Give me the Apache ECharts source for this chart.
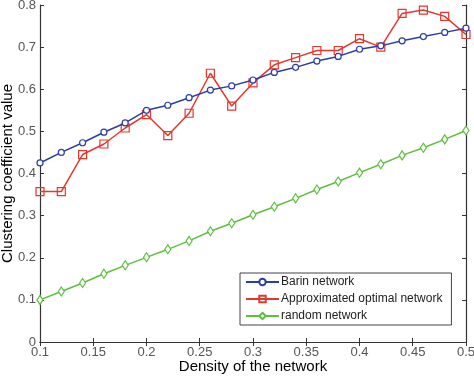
<!DOCTYPE html>
<html>
<head>
<meta charset="utf-8">
<script src="https://cdn.jsdelivr.net/npm/echarts@6/dist/echarts.min.js"></script>
<style>
html,body{margin:0;padding:0;background:#fff;}
#main{width:474px;height:376px;}
</style>
</head>
<body>
<div id="main"></div>
<script>
// density values on the x axis
var density = [0.10, 0.12, 0.14, 0.16, 0.18, 0.20, 0.22, 0.24, 0.26, 0.28, 0.30,
	0.32, 0.34, 0.36, 0.38, 0.40, 0.42, 0.44, 0.46, 0.48, 0.50];
var barin = [0.425, 0.450, 0.473, 0.498, 0.520, 0.550, 0.562, 0.580, 0.598, 0.608, 0.622,
	0.640, 0.652, 0.667, 0.678, 0.695, 0.703, 0.715, 0.725, 0.735, 0.745];
var optimal = [0.357, 0.357, 0.445, 0.470, 0.508, 0.540, 0.490, 0.543, 0.638, 0.560, 0.615,
	0.658, 0.675, 0.692, 0.692, 0.720, 0.700, 0.780, 0.788, 0.773, 0.730];
var random = [0.100, 0.120, 0.140, 0.162, 0.182, 0.201, 0.220, 0.240, 0.263, 0.282, 0.302,
	0.321, 0.341, 0.362, 0.381, 0.402, 0.422, 0.443, 0.461, 0.481, 0.502];
var seriesNames = ['Barin network', 'Approximated optimal network', 'random network'];

function pairs(ys) {
	var out = [];
	for (var i = 0; i < density.length; i++) {
		out.push([density[i], ys[i]]);
	}
	return out;
}

var myChart = echarts.init(document.getElementById('main'), null, {renderer: 'canvas'});
var fontFam = '"Liberation Sans", Arial, sans-serif';
var axisCommon = {
	axisLine: {show: true, lineStyle: {color: '#333', width: 1.2}},
	axisTick: {show: true, inside: true, length: 4, lineStyle: {color: '#333'}},
	splitLine: {show: false}
};

var option = {
	animation: false,
	backgroundColor: '#fff',
	grid: {left: 40, right: 8, top: 5, bottom: 34, containLabel: false, outerBoundsMode: 'none'},
	legend: {
		orient: 'vertical',
		left: 240,
		top: 273,
		backgroundColor: '#fff',
		borderColor: '#444',
		borderWidth: 1,
		borderRadius: 0,
		padding: [3, 9, 3, 5],
		itemGap: 5,
		itemWidth: 33,
		itemHeight: 8,
		textStyle: {fontFamily: fontFam, fontSize: 12, color: '#222', padding: [0, 0, 0, -3]},
		data: seriesNames
	},
	xAxis: [
		Object.assign({
			type: 'value', min: 0.1, max: 0.5, interval: 0.05,
			name: 'Density of the network', nameLocation: 'middle', nameGap: 17,
			nameMoveOverlap: false,
			nameTextStyle: {fontFamily: fontFam, fontSize: 15, color: '#000'},
			axisLabel: {fontFamily: fontFam, fontSize: 13, color: '#555', margin: 4}
		}, axisCommon),
		Object.assign({
			type: 'value', min: 0.1, max: 0.5, interval: 0.05, position: 'top',
			axisLabel: {show: false}
		}, axisCommon)
	],
	yAxis: [
		Object.assign({
			type: 'value', min: 0, max: 0.8, interval: 0.1,
			name: 'Clustering coefficient value', nameLocation: 'middle', nameGap: 25,
			nameMoveOverlap: false,
			nameTextStyle: {fontFamily: fontFam, fontSize: 15, color: '#000'},
			axisLabel: {fontFamily: fontFam, fontSize: 13, color: '#555', margin: 4}
		}, axisCommon),
		Object.assign({
			type: 'value', min: 0, max: 0.8, interval: 0.1, position: 'right',
			axisLabel: {show: false}
		}, axisCommon)
	],
	series: [{
		name: seriesNames[0],
		type: 'line',
		data: pairs(barin),
		symbol: 'circle',
		symbolSize: 6,
		color: '#2b3ea6',
		lineStyle: {width: 1.5, color: '#2b3ea6'},
		itemStyle: {color: '#fff', borderColor: '#2b3ea6', borderWidth: 1.2},
		z: 4
	}, {
		name: seriesNames[1],
		type: 'line',
		data: pairs(optimal),
		symbol: 'rect',
		symbolSize: 8,
		color: '#e5372c',
		lineStyle: {width: 1.5, color: '#e5372c'},
		itemStyle: {color: 'rgba(255,255,255,0)', borderColor: '#e5372c', borderWidth: 1.2},
		z: 3
	}, {
		name: seriesNames[2],
		type: 'line',
		data: pairs(random),
		symbol: 'diamond',
		symbolSize: [6, 9],
		color: '#5cbf3d',
		lineStyle: {width: 1.5, color: '#5cbf3d'},
		itemStyle: {color: '#fff', borderColor: '#5cbf3d', borderWidth: 1.2},
		z: 2
	}]
};
myChart.setOption(option);
</script>
</body>
</html>
